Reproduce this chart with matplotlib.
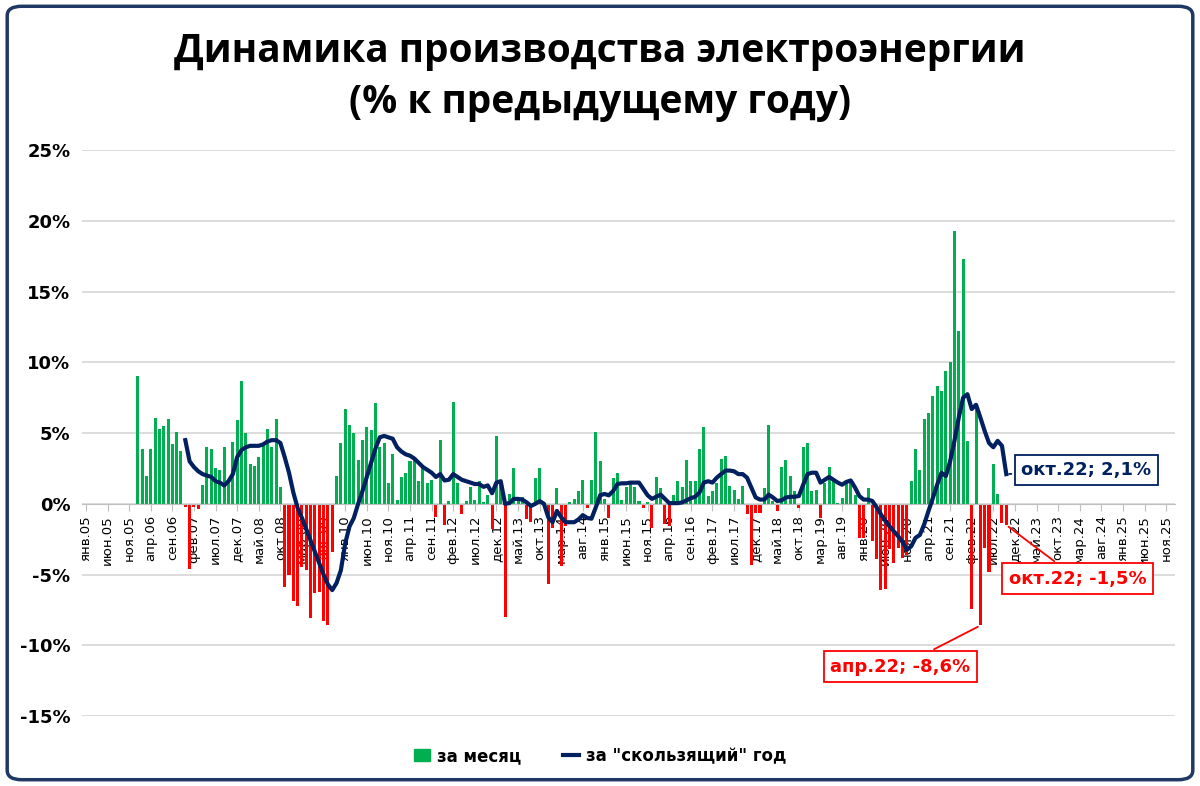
import numpy as np
import matplotlib
matplotlib.use("Agg")
import matplotlib.pyplot as plt
from matplotlib.patches import FancyBboxPatch
from matplotlib.lines import Line2D
from matplotlib.patches import Patch

MONTHS = ["янв", "фев", "мар", "апр", "май", "июн", "июл", "авг", "сен", "окт", "ноя", "дек"]
categories = [f"{MONTHS[m]}.{y % 100:02d}" for y in range(2005, 2026) for m in range(12)]

# monthly y/y change, Jan 2006 .. Oct 2022
monthly_2006_2009 = [
    9.0, 3.9, 2.0, 3.9, 6.1, 5.3, 5.5, 6.0, 4.2, 5.1, 3.7, -0.2,
    -4.6, -0.2, -0.4, 1.3, 4.0, 3.9, 2.5, 2.4, 4.0, 1.7, 4.4, 5.9,
    8.7, 5.0, 2.8, 2.7, 3.3, 4.3, 5.3, 4.0, 6.0, 1.2, -5.9, -5.0,
    -6.9, -7.2, -4.5, -4.7, -8.1, -6.3, -6.2, -8.3, -8.6, -3.4, 2.0, 4.3]
monthly_2010_2022 = [
    6.7, 5.6, 5.0, 3.1, 4.5, 5.4, 5.2, 7.1, 4.0, 4.3, 1.5, 3.5,
    0.3, 1.9, 2.2, 3.0, 3.2, 1.6, 2.7, 1.5, 1.7, -0.9, 4.5, -1.5,
    0.2, 7.2, 1.5, -0.7, 0.2, 1.2, 0.3, 1.6, 0.1, 0.6, -1.8, 4.8,
    1.7, -8.0, 0.7, 2.5, 0.3, 0.5, -1.1, -1.3, 1.8, 2.5, -0.1, -5.7,
    -1.7, 1.1, -4.4, -1.6, 0.1, 0.35, 0.9, 1.7, -0.3, 1.7, 5.1, 3.0,
    0.35, -1.0, 1.8, 2.2, 0.3, 1.2, 1.6, 1.2, 0.2, -0.3, 0.1, -1.7,
    1.9, 1.1, -1.4, -1.6, 0.6, 1.6, 1.2, 3.1, 1.6, 1.6, 3.9, 5.4,
    0.55, 0.9, 1.5, 3.2, 3.4, 1.25, 1.0, 0.35, 1.25, -0.75, -4.3, -0.65,
    -0.65, 1.1, 5.6, 0.2, -0.5, 2.6, 3.1, 2.0, 0.9, -0.3, 4.0, 4.3,
    0.9, 0.95, -1.0, 1.5, 2.6, 1.7, 0.05, 0.4, 1.6, 1.5, 0.6, -2.4,
    -2.4, 1.1, -2.6, -3.9, -6.1, -6.0, -3.2, -4.2, -3.1, -3.8, -3.6, 1.6,
    3.9, 2.4, 6.0, 6.4, 7.6, 8.3, 8.0, 9.4, 10.0, 19.3, 12.2, 17.3,
    4.45, -7.45, 6.7, -8.6, -3.1, -4.8, 2.8, 0.7, -1.35, -1.5]
monthly_start = "янв.06"

# rolling year, Dec 2006 .. Oct 2022
rolling_2006_2009 = [
    4.5,
    3.0, 2.6, 2.3, 2.1, 2.0, 1.9, 1.6, 1.5, 1.3, 1.6, 2.1, 3.3,
    3.8, 4.0, 4.1, 4.1, 4.1, 4.2, 4.4, 4.5, 4.5, 4.3, 3.3, 2.2,
    0.8, -0.3, -1.0, -1.8, -2.6, -3.4, -4.2, -5.0, -5.7, -6.1, -5.6, -4.7]
rolling_2010_2016 = [
    -2.8, -1.6, -1.0, 0, 0.9, 1.9, 2.9, 3.9, 4.7, 4.8,
    4.7, 4.6, 4.0, 3.7, 3.5, 3.4, 3.2, 2.9, 2.6, 2.4,
    2.2, 1.9, 2.1, 1.65, 1.7, 2.1, 1.9, 1.7, 1.6, 1.5,
    1.4, 1.4, 1.2, 1.3, 0.75, 1.5, 1.6, 0, 0.05, 0.35,
    0.35, 0.3, 0.1, -0.15, 0, 0.2, 0, -0.95, -1.3, -0.5,
    -0.95, -1.3, -1.3, -1.3, -1.1, -0.8, -1.0, -1.05, -0.25, 0.6,
    0.7, 0.6, 0.9, 1.4, 1.45, 1.45, 1.5, 1.5, 1.5, 1.05,
    0.6, 0.35, 0.5, 0.65, 0.35, 0.05, 0.05, 0.05, 0.1, 0.25,
    0.4, 0.5, 0.8]
rolling_2016_2022 = [
    1.5, 1.6, 1.5, 1.85, 2.1, 2.35, 2.35, 2.3, 2.1, 2.1,
    1.85, 1.15, 0.45, 0.3, 0.3, 0.65, 0.45, 0.2, 0.25, 0.45,
    0.5, 0.5, 0.55, 1.35, 2.1, 2.2, 2.2, 1.5, 1.7, 1.9,
    1.7, 1.5, 1.35, 1.55, 1.65, 1.15, 0.55, 0.3, 0.3, 0.2,
    -0.25, -0.75, -1.2, -1.6, -1.95, -2.3, -2.7, -3.25, -3.0, -2.4,
    -2.2, -1.45, -0.5, 0.4, 1.35, 2.2, 1.95, 3.0, 4.45, 6.1,
    7.5, 7.75, 6.7, 7.0, 6.1, 5.15, 4.3, 4.0, 4.45, 4.1,
    2.1]
rolling_start = "дек.06"

monthly = monthly_2006_2009 + monthly_2010_2022
rolling = rolling_2006_2009 + rolling_2010_2016 + rolling_2016_2022

yticks = [-15, -10, -5, 0, 5, 10, 15, 20, 25]
ytick_labels = ["-15%", "-10%", "-5%", "0%", "5%", "10%", "15%", "20%", "25%"]

GREEN, RED, NAVY = "#00B050", "#FF0000", "#002060"

fig = plt.figure(figsize=(12, 7.86), dpi=100)
ax = fig.add_axes([0.068, 0.089, 0.911, 0.72])

x_all = np.arange(len(categories))
m0 = categories.index(monthly_start)
xm = x_all[m0:m0 + len(monthly)]
vals = np.array(monthly)
ax.bar(xm, vals, width=0.7, color=[GREEN if v >= 0 else RED for v in vals], zorder=2)

r0 = categories.index(rolling_start)
xr = x_all[r0:r0 + len(rolling)]
ax.plot(xr, rolling, color=NAVY, lw=3, zorder=3, solid_joinstyle="round")

ax.set_ylim(-15, 25)
ax.set_xlim(-1, len(categories))
ax.set_yticks(yticks)
ax.set_yticklabels(ytick_labels, fontsize=13, fontweight="bold")
ax.yaxis.grid(True, color="#D9D9D9", lw=1.3, zorder=0)
ax.tick_params(axis="y", length=0, pad=8)
for s in ["top", "right", "left"]:
    ax.spines[s].set_visible(False)
ax.spines["bottom"].set_position(("data", 0))
ax.spines["bottom"].set_color("#BFBFBF")
ax.set_xticks(x_all[::5])
ax.set_xticklabels(categories[::5], rotation=90, fontsize=9.5)
ax.tick_params(axis="x", length=5, color="#BFBFBF", pad=3)

# annotations
i_last = xr[-1]
ax.annotate("окт.22; 2,1%", xy=(i_last, rolling[-1]), xytext=(231.5, 2.4),
            ha="center", va="center", fontsize=13, fontweight="bold", color=NAVY,
            bbox=dict(boxstyle="square,pad=0.35", fc="white", ec=NAVY, lw=1.3),
            arrowprops=dict(arrowstyle="-", color=NAVY, lw=1.3), zorder=5)
ax.annotate("окт.22; -1,5%", xy=(xm[-1], vals[-1]), xytext=(229.5, -5.3),
            ha="center", va="center", fontsize=13, fontweight="bold", color=RED,
            bbox=dict(boxstyle="square,pad=0.35", fc="white", ec=RED, lw=1.3),
            arrowprops=dict(arrowstyle="-", color=RED, lw=1.3), zorder=5)
i_apr = categories.index("апр.22")
ax.annotate("апр.22; -8,6%", xy=(i_apr, monthly[i_apr - m0]), xytext=(188.5, -11.5),
            ha="center", va="center", fontsize=13, fontweight="bold", color=RED,
            bbox=dict(boxstyle="square,pad=0.35", fc="white", ec=RED, lw=1.3),
            arrowprops=dict(arrowstyle="-", color=RED, lw=1.3), zorder=5)

fig.text(0.5, 0.935, "Динамика производства электроэнергии", ha="center", va="center",
         fontsize=28, fontweight="bold", family="Open Sans")
fig.text(0.5, 0.87, "(% к предыдущему году)", ha="center", va="center",
         fontsize=28, fontweight="bold", family="Open Sans")

handles = [Patch(color=GREEN, label="за месяц"),
           Line2D([0], [0], color=NAVY, lw=3, label='за "скользящий" год')]
fig.legend(handles=handles, loc="center", bbox_to_anchor=(0.5, 0.038), ncol=2, frameon=False,
           prop=dict(size=12, weight="bold"), handlelength=1.0, columnspacing=2.5, handletextpad=0.4)

fig.patches.append(FancyBboxPatch((0.006, 0.008), 0.988, 0.984, boxstyle="round,pad=0,rounding_size=0.012",
                                  transform=fig.transFigure, fill=False, ec="#1F3864", lw=2.5))

fig.savefig("out.png", dpi=100)
